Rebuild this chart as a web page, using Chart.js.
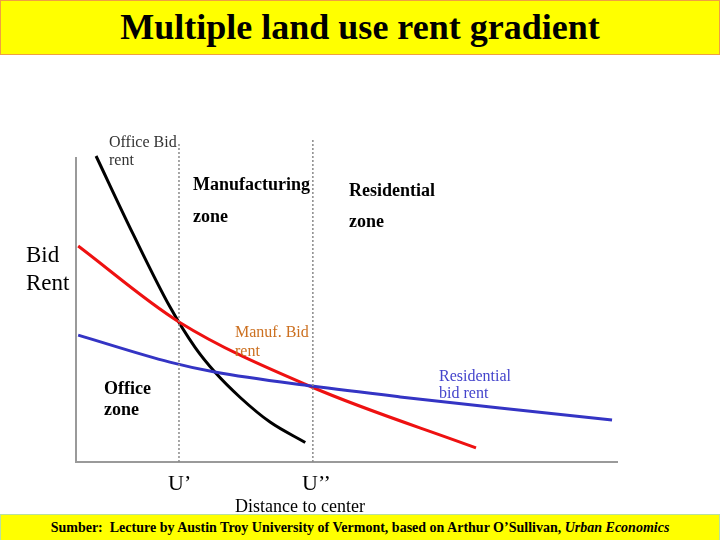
<!DOCTYPE html>
<html>
<head>
<meta charset="utf-8">
<script src="https://cdn.jsdelivr.net/npm/chart.js@4"></script>
<style>
  html, body { margin: 0; padding: 0; background: #fff; }
  #wrap { position: relative; width: 720px; height: 540px; overflow: hidden; font-family: "Liberation Serif", "Times New Roman", serif; }
  canvas { position: absolute; left: 0; top: 0; }
  .lbl { position: absolute; white-space: nowrap; line-height: 1; }
  #title { position: absolute; left: 0; top: 0; width: 718px; height: 53px; background: #ffff00; border: 1px solid #f0a040; text-align: center; font-weight: bold; font-size: 36px; line-height: 53px; color: #000; }
  #foot { position: absolute; left: 0; top: 514px; width: 718px; height: 25px; background: #ffff00; border: 1px solid #b8e0a0; text-align: center; font-weight: bold; font-size: 14px; line-height: 25px; color: #000; }
</style>
</head>
<body>
<div id="wrap">
  <canvas id="c" width="720" height="540"></canvas>
  <div id="title">Multiple land use rent gradient</div>
  <div id="foot">Sumber:&nbsp; Lecture by Austin Troy University of Vermont, based on Arthur O’Sullivan, <i>Urban Economics</i></div>

  <div class="lbl" style="left:109px;top:134px;font-size:16px;color:#333;">Office Bid</div>
  <div class="lbl" style="left:109px;top:152px;font-size:16px;color:#333;">rent</div>
  <div class="lbl" style="left:193px;top:175px;font-size:18px;font-weight:bold;">Manufacturing</div>
  <div class="lbl" style="left:193px;top:207px;font-size:18px;font-weight:bold;">zone</div>
  <div class="lbl" style="left:349px;top:181px;font-size:18px;font-weight:bold;">Residential</div>
  <div class="lbl" style="left:349px;top:212px;font-size:18px;font-weight:bold;">zone</div>
  <div class="lbl" style="left:26px;top:243px;font-size:23px;">Bid</div>
  <div class="lbl" style="left:26px;top:271px;font-size:23px;">Rent</div>
  <div class="lbl" style="left:235px;top:324px;font-size:16px;color:#cc7020;">Manuf. Bid</div>
  <div class="lbl" style="left:235px;top:343px;font-size:16px;color:#cc7020;">rent</div>
  <div class="lbl" style="left:439px;top:368px;font-size:16px;color:#4444cc;">Residential</div>
  <div class="lbl" style="left:439px;top:385px;font-size:16px;color:#4444cc;">bid rent</div>
  <div class="lbl" style="left:104px;top:379px;font-size:18px;font-weight:bold;">Office</div>
  <div class="lbl" style="left:104px;top:400px;font-size:18px;font-weight:bold;">zone</div>
  <div class="lbl" style="left:168px;top:472px;font-size:22px;">U’</div>
  <div class="lbl" style="left:302px;top:472px;font-size:22px;">U’’</div>
  <div class="lbl" style="left:235px;top:497px;font-size:18px;">Distance to center</div>
</div>
<script>
// Distance (x) and bid rent (y) readings for each curve
const officeX = [3.7, 10.5, 17.3, 22.0, 25.7, 30.3, 35.8, 42.3];
const officeY = [102, 76.1, 51.8, 38.1, 29.8, 21.5, 13.3, 6.5];
const manufX = [0.4, 19.0, 43.5, 73.8];
const manufY = [72, 46.7, 25, 4.7];
const residX = [0.4, 17.3, 25.6, 43.5, 59.8, 78.2, 98.9];
const residY = [42.3, 33.3, 30, 25.3, 21.7, 18, 14];
// Zone boundaries U' and U''
const boundaryX = [19.0, 43.7];
const boundaryTop = [106, 108];

const pts = (xs, ys) => xs.map((x, i) => ({ x, y: ys[i] }));

const axesPlugin = {
  id: 'axes',
  beforeDatasetsDraw(chart) {
    const { ctx, scales: { x, y } } = chart;
    const x0 = x.getPixelForValue(0), x1 = x.getPixelForValue(100);
    const y0 = y.getPixelForValue(0), y1 = y.getPixelForValue(101.7);
    ctx.save();
    ctx.strokeStyle = '#9a9a9a';
    ctx.lineWidth = 2;
    ctx.beginPath();
    ctx.moveTo(x0, y1); ctx.lineTo(x0, y0); ctx.lineTo(x1, y0);
    ctx.stroke();
    ctx.restore();
  }
};

const dashed = boundaryX.map((bx, i) => ({
  data: [{ x: bx, y: 0 }, { x: bx, y: boundaryTop[i] }],
  borderColor: '#8a8a8a', borderWidth: 1.5, borderDash: [2, 2],
  pointRadius: 0, tension: 0, clip: false
}));

new Chart(document.getElementById('c'), {
  type: 'line',
  data: {
    datasets: [
      ...dashed,
      { label: 'Residential bid rent', data: pts(residX, residY), borderColor: '#3434c4', borderWidth: 3, pointRadius: 0, cubicInterpolationMode: 'monotone', clip: false },
      { label: 'Manuf. bid rent', data: pts(manufX, manufY), borderColor: '#ee1111', borderWidth: 3, pointRadius: 0, cubicInterpolationMode: 'monotone', clip: false },
      { label: 'Office bid rent', data: pts(officeX, officeY), borderColor: '#000000', borderWidth: 3, pointRadius: 0, cubicInterpolationMode: 'monotone', clip: false }
    ]
  },
  options: {
    responsive: false,
    animation: false,
    devicePixelRatio: 1,
    layout: { padding: { left: 76, right: 102, top: 132, bottom: 78 } },
    plugins: { legend: { display: false }, tooltip: { enabled: false }, title: { display: false } },
    scales: {
      x: { type: 'linear', min: 0, max: 100, display: false },
      y: { type: 'linear', min: 0, max: 110, display: false }
    }
  },
  plugins: [axesPlugin]
});
</script>
</body>
</html>
